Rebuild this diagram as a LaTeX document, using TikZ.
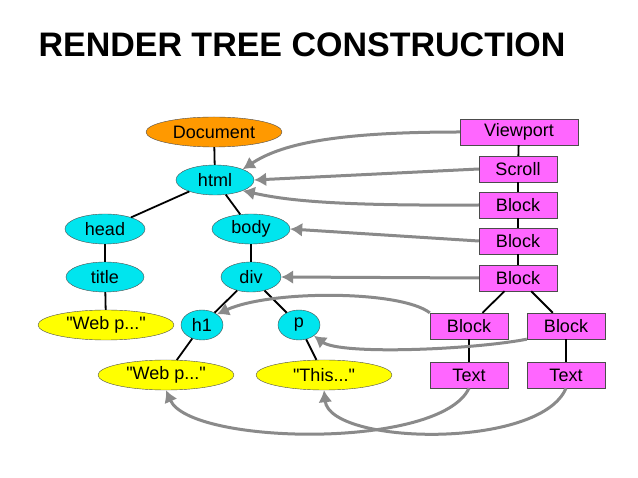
\documentclass[tikz,border=0pt]{standalone}
\usepackage{fontspec}
\setmainfont{Liberation Sans}
\usetikzlibrary{shapes.geometric,arrows.meta}
\definecolor{dom}{HTML}{00E5EE}
\definecolor{txt}{HTML}{FFFF00}
\definecolor{docc}{HTML}{FF9900}
\definecolor{rnd}{HTML}{FF66FF}
\definecolor{arr}{HTML}{8A8A8A}
\newcommand{\qq}{\textquotedbl}
\begin{document}
\begin{tikzpicture}[x=1pt,y=-1pt,
 el/.style={ellipse,draw=black!70,fill=dom,inner sep=0pt,minimum height=30pt,font=\fontsize{18}{18}\selectfont},
 rb/.style={rectangle,draw=black!70,fill=rnd,inner sep=0pt,minimum height=26pt,minimum width=78pt,font=\fontsize{18}{18}\selectfont},
 tr/.style={draw,line width=1.8pt},
 ga/.style={draw=arr,line width=3pt,-{Latex[length=12pt,width=14pt]}}]
\useasboundingbox[fill=white] (0,0) rectangle (638,478);
\node[anchor=west,font=\bfseries\fontsize{34}{34}\selectfont] (title) at (35,45) {RENDER TREE CONSTRUCTION};
\node[el,fill=docc,minimum width=136pt] (doc) at (214,132) {Document};
\node[el,minimum width=78pt] (html) at (215,180) {html};
\node[el,minimum width=80pt] (head) at (105,229) {head};
\node[el,minimum width=78pt] (body) at (251,229) {body};
\node[el,minimum width=78pt] (titl) at (105,277) {title};
\node[el,minimum width=60pt] (div) at (251,277) {div};
\node[el,fill=txt,minimum width=136pt] (wp1) at (106,325) {\qq Web p...\qq};
\node[el,minimum width=42pt] (h1) at (202,325) {h1};
\node[el,minimum width=42pt] (p) at (299,325) {p};
\node[el,fill=txt,minimum width=136pt] (wp2) at (166,375) {\qq Web p...\qq};
\node[el,fill=txt,minimum width=136pt] (this) at (324,375) {\qq This...\qq};
\node[rb,minimum width=118pt] (vp) at (519,132) {Viewport};
\node[rb] (sc) at (518,169) {Scroll};
\node[rb] (b1) at (518,205) {Block};
\node[rb] (b2) at (518,241) {Block};
\node[rb] (b3) at (518,278) {Block};
\node[rb] (b4) at (469,326) {Block};
\node[rb] (b5) at (566,326) {Block};
\node[rb] (t1) at (469,375) {Text};
\node[rb] (t2) at (566,375) {Text};
\draw[tr] (doc) -- (html);
\draw[tr] (html) -- (head);
\draw[tr] (html) -- (body);
\draw[tr] (head) -- (titl);
\draw[tr] (titl) -- (wp1);
\draw[tr] (body) -- (div);
\draw[tr] (div) -- (h1);
\draw[tr] (div) -- (p);
\draw[tr] (h1) -- (wp2);
\draw[tr] (p) -- (this);
\draw[tr] (vp) -- (sc);
\draw[tr] (sc) -- (b1);
\draw[tr] (b1) -- (b2);
\draw[tr] (b2) -- (b3);
\draw[tr] (b3) -- (b4);
\draw[tr] (b3) -- (b5);
\draw[tr] (b4) -- (t1);
\draw[tr] (b5) -- (t2);
\draw[ga] (vp.west) .. controls (330,132) and (280,145) .. (html.north east);
\draw[ga] (sc.west) -- (html.east);
\draw[ga] (b1.west) .. controls (330,206) and (285,200) .. (html.south east);
\draw[ga] (b2.west) -- (body.east);
\draw[ga] (b3.west) -- (div.east);
\draw[ga] (b4.north west) .. controls (400,290) and (270,290) .. (h1.north east);
\draw[ga] (b5.south west) .. controls (470,350) and (340,355) .. (p.south east);
\draw[ga] (t1.south) .. controls (440,450) and (190,445) .. (wp2.south);
\draw[ga] (t2.south) .. controls (540,450) and (330,445) .. (this.south);
\end{tikzpicture}
\end{document}
